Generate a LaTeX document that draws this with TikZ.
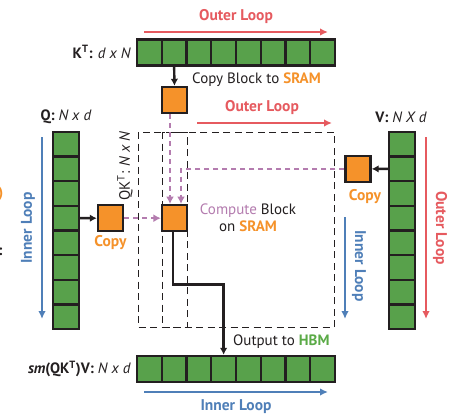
\documentclass[tikz,border=0pt]{standalone}
\usepackage{fontspec}
\setmainfont{PT Sans}
\usetikzlibrary{arrows.meta,calc}
\definecolor{cgreen}{HTML}{58A14B}
\definecolor{corange}{HTML}{F5922A}
\definecolor{cred}{HTML}{E65A5F}
\definecolor{cblue}{HTML}{4F7FB8}
\definecolor{cpurple}{HTML}{B47CAF}
\definecolor{chbm}{HTML}{5AAA46}
\definecolor{cink}{HTML}{231F20}
\begin{document}
\begin{tikzpicture}[x=1pt,y=-1pt,
  cell/.style={draw=cink,fill=cgreen,line width=2.3pt,inner sep=0pt,minimum width=24.75pt,minimum height=26pt},
  vcell/.style={draw=cink,fill=cgreen,line width=2.3pt,inner sep=0pt,minimum width=26pt,minimum height=24.625pt},
  obox/.style={draw=cink,fill=corange,line width=2.4pt,inner sep=0pt,minimum width=25pt,minimum height=26pt},
  blk/.style={draw=cink,line width=2.4pt,-{Latex[length=7pt,width=7.5pt]}},
  pdash/.style={draw=cpurple,line width=2.4pt,dash pattern=on 5pt off 4pt,-{Latex[length=7.5pt,width=8pt]}},
  redarr/.style={draw=cred,line width=2.4pt,-{Latex[length=8pt,width=7.5pt]}},
  bluearr/.style={draw=cblue,line width=2.4pt,-{Latex[length=8pt,width=7.5pt]}},
  dbox/.style={draw=cink,line width=1pt,dash pattern=on 7pt off 4.5pt},
  lbl/.style={font=\fontsize{15}{17}\selectfont,text=cink,inner sep=0pt},
  redlbl/.style={font=\fontsize{15.5}{17}\selectfont\bfseries,text=cred,inner sep=0pt},
  bluelbl/.style={font=\fontsize{15.5}{17}\selectfont\bfseries,text=cblue,inner sep=0pt},
  copylbl/.style={font=\fontsize{15.5}{17}\selectfont\bfseries,text=corange,inner sep=0pt}
]
\useasboundingbox (0,0) rectangle (452,417);
\fill[white] (0,0) rectangle (452,417);

% dashed QK^T boxes
\draw[dbox] (138,132) rectangle (334,327);
\draw[dbox] (162,132) rectangle (187,327);

% K^T row
\foreach \i in {1,...,8} \node[cell] (k\i) at ({137+24.75*(\i-0.5)},52.5) {};
% output row
\foreach \i in {1,...,8} \node[cell] (o\i) at ({137+24.75*(\i-0.5)},369) {};
% Q column
\foreach \i in {1,...,8} \node[vcell] (q\i) at (66,{132+24.625*(\i-0.5)}) {};
% V column
\foreach \i in {1,...,8} \node[vcell] (v\i) at (402,{132+24.625*(\i-0.5)}) {};

% orange blocks
\node[obox] (ob) at (174.5,100) {};
\node[obox] (qc) at (110.5,218.2) {};
\node[obox] (cb) at (174.5,218.2) {};
\node[obox] (vc) at (358,168.9) {};

% connectors
\draw[blk] (k2.south) -- (ob.north);
\draw[blk] (q4.east) -- (qc.west);
\draw[blk] (v2.west) -- (vc.east);
\draw[pdash] ([xshift=-4.5pt]ob.south) -- ([xshift=-4.5pt]cb.north);
\draw[pdash] (vc.west) -| ([xshift=6.5pt]cb.north);
\draw[pdash] (qc.east) -- (cb.west);
\draw[blk] ([xshift=-1.5pt]cb.south) -- ++(0,52) -| (o4.north);

% loop arrows
\coordinate (to1) at (144,32); \coordinate (to2) at (328,32);
\coordinate (so1) at (197,123); \coordinate (so2) at (332,123);
\coordinate (bi1) at (144,392); \coordinate (bi2) at (328,392);
\coordinate (li1) at (42,137); \coordinate (li2) at (42,319);
\coordinate (ri1) at (345,217); \coordinate (ri2) at (345,319);
\coordinate (ro1) at (426,137); \coordinate (ro2) at (426,319);
\draw[redarr] (to1) -- (to2);
\draw[redarr] (so1) -- (so2);
\draw[bluearr] (bi1) -- (bi2);
\draw[bluearr] (li1) -- (li2);
\draw[bluearr] (ri1) -- (ri2);
\draw[redarr] (ro1) -- (ro2);
\node[redlbl] (tol) at (236,17) {Outer Loop};
\node[redlbl] (sol) at (262,108) {Outer Loop};
\node[bluelbl] (bil) at (236,407) {Inner Loop};
\node[bluelbl,rotate=90] (lil) at (28,228) {Inner Loop};
\node[bluelbl,rotate=-90] (ril) at (359,266) {Inner Loop};
\node[redlbl,rotate=-90] (rol) at (440,228) {Outer Loop};

% labels
\node[lbl,anchor=east] (kl) at (131,52) {\textbf{K\textsuperscript{T}:} \textit{d x N}};
\node[lbl,anchor=west] (cbl) at (192,80) {Copy Block to \textcolor{corange}{\textbf{SRAM}}};
\node[lbl] (ql) at (66,117) {\textbf{Q:} \textit{N x d}};
\node[lbl] (vl) at (401,117) {\textbf{V:} \textit{N X d}};
\node[lbl,rotate=90] (qkl) at (125,166) {QK\textsuperscript{T}: \textit{N x N}};
\node[copylbl] (qcl) at (110.5,243) {Copy};
\node[copylbl] (vcl) at (365,197) {Copy};
\node[lbl,align=center] (cbt) at (248,218) {\textcolor{cpurple}{Compute} Block\\on \textcolor{corange}{\textbf{SRAM}}};
\node[lbl,anchor=west] (ohl) at (233,342) {Output to \textcolor{chbm}{\textbf{HBM}}};
\node[lbl,anchor=east] (sml) at (131,369) {\textbf{\textit{sm}(QK\textsuperscript{T})V:} \textit{N x d}};

% cropped fragments at left edge
\node[lbl,anchor=east,text=corange] (frag1) at (3.5,194) {\textbf{)}};
\node[lbl,anchor=east] (frag2) at (2.5,252) {\textbf{:}};
\end{tikzpicture}
\end{document}
